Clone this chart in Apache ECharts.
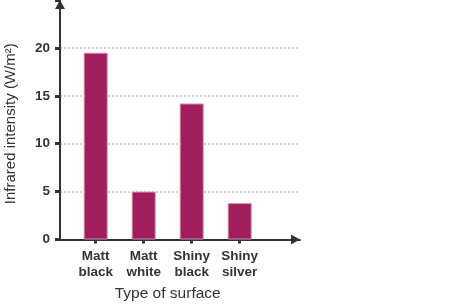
<!DOCTYPE html>
<html>
<head>
<meta charset="utf-8">
<script src="https://cdn.jsdelivr.net/npm/echarts@6/dist/echarts.min.js"></script>
<style>html,body{margin:0;padding:0;background:#fff}#c{width:464px;height:304px}</style>
</head>
<body>
<div id="c"></div>
<script>
var categories = ['Matt\nblack', 'Matt\nwhite', 'Shiny\nblack', 'Shiny\nsilver'];
var intensity = [19.5, 5.0, 14.2, 3.8];
var yTicks = [0, 5, 10, 15, 20];
var yTitle = 'Infrared intensity (W/m\u00B2)';
var xTitle = 'Type of surface';

var FONT = '"Liberation Sans", Arial, sans-serif';
var DARK = '#333333';
var chart = echarts.init(document.getElementById('c'), null, {renderer: 'canvas'});
chart.setOption({
  animation: false,
  backgroundColor: '#ffffff',
  grid: [
    {left: 60, top: 0, width: 240, height: 239.5, containLabel: false, outerBoundsMode: 'none'},
    {left: 71.7, top: 0, width: 192, height: 239.5, containLabel: false, outerBoundsMode: 'none'}
  ],
  xAxis: [
    {
      gridIndex: 0, type: 'value', min: 0, max: 240,
      axisLine: {show: true, onZero: false, lineStyle: {color: DARK, width: 2}, symbol: ['none', 'triangle'], symbolSize: [10, 9], symbolOffset: [0, -4.5]},
      axisTick: {show: false}, axisLabel: {show: false}, splitLine: {show: false}
    },
    {
      gridIndex: 1, type: 'category', data: categories,
      axisLine: {show: false},
      axisTick: {show: true, alignWithLabel: true, length: 4, lineStyle: {color: DARK, width: 3}},
      axisLabel: {fontFamily: FONT, fontSize: 13.5, fontWeight: 'bold', color: DARK, lineHeight: 16, margin: 9},
      name: xTitle, nameLocation: 'middle', nameGap: 45,
      nameTextStyle: {fontFamily: FONT, fontSize: 15.5, color: DARK}
    }
  ],
  yAxis: [
    {
      gridIndex: 0, type: 'value', min: 0, max: 25, interval: 5,
      axisLine: {show: true, onZero: false, lineStyle: {color: DARK, width: 2}, symbol: ['none', 'triangle'], symbolSize: [10, 9], symbolOffset: [0, -4.5]},
      axisTick: {show: true, length: 5, lineStyle: {color: DARK, width: 3}},
      axisLabel: {fontFamily: FONT, fontSize: 13.5, fontWeight: 'bold', color: DARK, margin: 10,
        formatter: function (v) { return yTicks.indexOf(v) >= 0 ? String(v) : ''; }},
      splitLine: {show: true, lineStyle: {color: ['transparent', '#d2d2d2', '#d2d2d2', '#d2d2d2', '#d2d2d2', 'transparent'], width: 2, type: [2, 2]}},
      name: yTitle, nameLocation: 'middle', nameGap: 42, nameRotate: 90,
      nameTextStyle: {fontFamily: FONT, fontSize: 15, color: DARK, padding: [0, 8, 0, 0]}
    },
    {
      gridIndex: 1, type: 'value', min: 0, max: 25, show: false, splitLine: {show: false}
    }
  ],
  series: [{
    type: 'bar', xAxisIndex: 1, yAxisIndex: 1, data: intensity, barWidth: 24,
    itemStyle: {color: '#a01e5e', borderColor: '#d88aae', borderWidth: 1}
  }]
});
</script>
</body>
</html>
